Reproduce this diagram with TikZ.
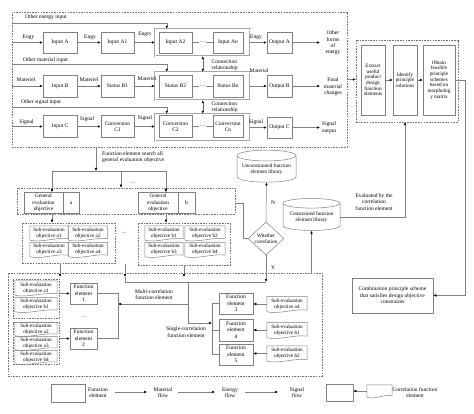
\documentclass[tikz,border=0pt]{standalone}
\usepackage{fontspec}
\setmainfont{Liberation Serif}
\usetikzlibrary{arrows.meta,shapes.geometric,calc}
\newcommand\ft{\fontsize{5.5}{6.4}\selectfont}
\newcommand\fs{\fontsize{5.2}{5.7}\selectfont}
\newcommand\wavy[1]{\draw[wline] (#1.south west) -- (#1.north west) -- (#1.north east) -- ([yshift=1.5pt]#1.south east) .. controls ($(#1.south west)!0.72!(#1.south east)+(0pt,3.5pt)$) and ($(#1.south west)!0.28!(#1.south east)+(0pt,-3pt)$) .. (#1.south west);}
\tikzset{
  wh/.style 2 args={minimum width=#1pt, minimum height=#2pt},
  box/.style={draw=black!50, line width=0.5pt, fill=white, align=center, inner sep=0pt, font=\ft},
  grp/.style={draw=black!35, line width=0.45pt, double=white, double distance=0.7pt, inner sep=0pt},
  dbox/.style={draw=black!55, line width=0.5pt, dash pattern=on 1.6pt off 1.1pt, inner sep=0pt},
  doc/.style={inner sep=0pt, align=center, font=\fs},
  wline/.style={draw=black!50, line width=0.5pt},
  lbl/.style={inner sep=0pt, align=center, font=\ft},
  lbll/.style={inner sep=0pt, align=left, font=\ft},
  flow/.style={draw=black!50, line width=0.5pt, -{Latex[color=black,length=3pt,width=2.6pt]}},
  twoway/.style={draw=black!60, line width=0.55pt, {Latex[color=black,length=3pt,width=2.6pt]}-{Latex[color=black,length=3pt,width=2.6pt]}},
  link/.style={draw=black!50, line width=0.5pt},
  lib/.style={cylinder, shape border rotate=90, aspect=0.22, draw=black!50, line width=0.5pt, inner sep=0pt, align=center, font=\fs},
}
\begin{document}
\begin{tikzpicture}[x=1pt,y=-1pt]
\useasboundingbox (0,0) rectangle (474,414);

% ===== top dashed box =====
\node[dbox, wh={335}{135}] (topbox) at (179.5,79.5) {};

% row 1 energy
\node[lbll, anchor=west] (oetxt) at (25,17) {Other energy input};
\node[grp, wh={95}{27}] (grpA) at (202.5,42.5) {};
\node[box, wh={34}{21}] (inA) at (60,42.5) {Input A};
\node[box, wh={33}{21}] (inA1) at (117.5,42.5) {Input A1};
\node[box, wh={33}{21}] (inA2) at (175.5,42.5) {Input A2};
\node[box, wh={30}{21}] (inAn) at (228,42.5) {Input An};
\node[box, wh={25}{21}] (outA) at (279.5,42.5) {Output A};
\node[lbl, inner sep=1pt] (dA) at (202.5,42.5) {···};
\draw[link] (inA2) -- (dA); \draw[link] (dA) -- (inAn);
\coordinate (eS) at (12,42.5); \coordinate (eE) at (320,42.5);
\draw[flow] (eS) -- (inA); \draw[flow] (inA) -- (inA1); \draw[flow] (inA1) -- (grpA);
\draw[flow] (grpA) -- (outA); \draw[flow] (outA) -- (eE);
\node[lbl] (eOut) at (333,43) {Other\\forms\\of\\energy};
\node[lbl] (le1) at (28.5,37) {Engy};
\node[lbl] (le2) at (90,37) {Engy};
\node[lbl] (le3) at (145,34) {Engry};
\node[lbl] (le4) at (256,37) {Engy};
\coordinate (oeS) at (12,23);
\draw[flow] (oeS) -| ([xshift=12pt]grpA.north west);

% row 2 material
\node[lbll, anchor=west] (omtxt) at (23,60.5) {Other material input};
\node[grp, wh={95}{28}] (grpB) at (202.5,86) {};
\node[box, wh={34}{22}] (inB) at (60,86) {Input B};
\node[box, wh={33}{22}] (stB1) at (117.5,86) {Status B1};
\node[box, wh={33}{22}] (stB2) at (175.5,86) {Status B2};
\node[box, wh={30}{22}] (stBn) at (228,86) {Status Bn};
\node[box, wh={25}{22}] (outB) at (279.5,86) {Output B};
\node[lbl, inner sep=1pt] (dB) at (202.5,86) {···};
\draw[link] (stB2) -- (dB); \draw[link] (dB) -- (stBn);
\coordinate (mS) at (12,86); \coordinate (mE) at (320,86);
\draw[flow] (mS) -- (inB); \draw[flow] (inB) -- (stB1); \draw[flow] (stB1) -- (grpB);
\draw[flow] (grpB) -- (outB); \draw[flow] (outB) -- (mE);
\node[lbl] (mOut) at (333,87) {Final\\material\\changes};
\node[lbl] (lm1) at (26,80) {Materiel};
\node[lbl] (lm2) at (89,80) {Materiel};
\node[lbl] (lm3) at (147,79) {Materiel};
\node[lbl] (lm4) at (259,71) {Material};
\coordinate (omS) at (12,64);
\draw[flow] (omS) -| ([xshift=12pt]grpB.north west);

% row 3 signal
\node[lbll, anchor=west] (ostxt) at (21,102) {Other signal input};
\node[grp, wh={95}{27}] (grpC) at (202.5,127.5) {};
\node[box, wh={34}{22}] (inC) at (60,126.5) {Input C};
\node[box, wh={33}{22}] (cvC1) at (117.5,126.5) {Conversion\\C1};
\node[box, wh={33}{22}] (cvC2) at (175.5,126.5) {Conversion\\C2};
\node[box, wh={30}{22}] (cvCn) at (228,126.5) {Conversion\\Cn};
\node[box, wh={25}{21}] (outC) at (279.5,127.5) {Output C};
\node[lbl, inner sep=1pt] (dC) at (202.5,126.5) {···};
\draw[link] (cvC2) -- (dC); \draw[link] (dC) -- (cvCn);
\coordinate (sS) at (12,126.5); \coordinate (sE) at (320,127.5);
\draw[flow] (sS) -- (inC); \draw[flow] (inC) -- (cvC1); \draw[flow] (cvC1) -- (cvC1 -| grpC.west);
\draw[flow] (outC -| grpC.east) -- (outC); \draw[flow] (outC) -- (sE);
\node[lbl] (sOut) at (329,127.5) {Signal\\output};
\node[lbl] (ls1) at (26.5,122) {Signal};
\node[lbl] (ls2) at (87,119.5) {Signal};
\node[lbl] (ls3) at (145,118.5) {Signal};
\node[lbl] (ls4) at (256,122) {Signal};
\coordinate (osS) at (12,107);
\draw[flow] (osS) -| ([xshift=12pt]grpC.north west);

% connection relationships
\draw[twoway] ([xshift=48pt]grpA.south west) -- ([xshift=48pt]grpB.north west);
\draw[twoway] ([xshift=48pt]grpB.south west) -- ([xshift=48pt]grpC.north west);
\node[lbll, anchor=west] (cr1) at (211.5,65) {Connection\\relationship};
\node[lbll, anchor=west] (cr2) at (211.5,107) {Connection\\relationship};

% ===== right dashed box =====
\node[dbox, wh={102}{82}] (rbox) at (407,81) {};
\node[box, wh={24}{70}, font=\fs] (ex) at (373,80) {Extract\\useful\\product\\design\\function\\elements};
\node[box, wh={24}{70}, font=\fs] (id) at (405,80) {Identify\\principle\\solutions};
\node[box, wh={32}{70}, font=\fs] (ob) at (439,80) {Obtain\\feasible\\principle\\schemes\\based on\\morpholog\\y matrix};
\draw[flow] (topbox.east) -- (topbox.east -| rbox.west);
\draw[flow] (ex) -- (id); \draw[flow] (id) -- (ob);
\node[box, wh={81}{35}] (comb) at (392.5,295.5) {Combination principle scheme\\that satisfies design objective\\constraints};
\draw[flow] (ob.east) -- ++(10,0) |- (comb.east);

% ===== middle =====
\node[lbll, anchor=north west] (fsearch) at (102,151.5) {Function element search all\\general evaluation objective};
\coordinate (fsB) at (96,171);
\draw[flow] (topbox.south -| fsB) -- (fsB);
\coordinate (hL) at (52,171); \coordinate (hM) at (121,171); \coordinate (hR) at (166,171);
\draw[link] (hL) -- (hR);
\node[dbox, wh={218}{26}] (gbox) at (126,201) {};
\node[box, wh={39}{21}, font=\fontsize{5.3}{6.6}\selectfont] (gea) at (43.5,203) {General\\evaluation\\objective};
\node[box, wh={16}{21}] (ga) at (71,203) {a};
\node[box, wh={40}{21}, font=\fontsize{5.3}{6.6}\selectfont] (geb) at (158,203) {General\\evaluation\\objective};
\node[box, wh={17}{21}] (gb) at (186.5,203) {b};
\draw[flow] (hL) -- (hL |- gea.north);
\draw[flow] (hM) -- (hM |- gbox.north);
\draw[flow] (hR) -- (hR |- geb.north);
\node[lbl] (dots1) at (133,183) {···};

\node[dbox, wh={93}{40}] (sga) at (68.5,243) {};
\node[dbox, wh={92}{42}] (sgb) at (184,244) {};
\draw[flow] (hL |- gea.south) -- (hL |- sga.north);
\draw[flow] (hR |- geb.south) -- (hR |- sgb.north);
\node[doc, wh={38}{14}] (sa1) at (49,233) {Sub-evaluation\\objective a1};
\node[doc, wh={39}{14}] (sa2) at (88,233) {Sub-evaluation\\objective a2};
\node[doc, wh={38}{14}] (sa3) at (49,249.5) {Sub-evaluation\\objective a3};
\node[doc, wh={39}{14}] (sa4) at (88,249.5) {Sub-evaluation\\objective a4};
\node[doc, wh={38}{14}] (sb1) at (164,233) {Sub-evaluation\\objective b1};
\node[doc, wh={40}{14}] (sb2) at (205,233) {Sub-evaluation\\objective b2};
\node[doc, wh={38}{14}] (sb3) at (164,249.5) {Sub-evaluation\\objective b3};
\node[doc, wh={40}{14}] (sb4) at (205,249.5) {Sub-evaluation\\objective b4};
\wavy{sa1}\wavy{sa2}\wavy{sa3}\wavy{sa4}\wavy{sb1}\wavy{sb2}\wavy{sb3}\wavy{sb4}
\node[lbl] (dots2) at (124,233) {···};
\node[lbl, font=\fontsize{3.5}{4}\selectfont] (dots3) at (40,260.5) {···};
\node[lbl, font=\fontsize{3.5}{4}\selectfont] (dots4) at (153,262.5) {···};

% libraries and decision
\node[lib, minimum width=59pt, minimum height=32pt] (ulib) at (266.5,169) {Unconstrained function\\element library};
\node[lib, minimum width=57pt, minimum height=32pt] (clib) at (311.5,217) {Constrained function\\element library};
\node[diamond, draw=black!50, line width=0.5pt, fill=white, aspect=1.1, inner sep=0pt, minimum width=36pt, minimum height=33pt, align=center, font=\fs] (dia) at (266,238.5) {Whether\\correlation};
\draw[flow] (dia.north) -- (ulib.south);
\node[lbl] (lN) at (273,203) {N};
\node[lbl] (lY) at (273,268) {Y};
\coordinate (gk) at (243,203);
\draw[link] (gbox.east |- gk) -- (gk) |- (dia.west);
\draw[flow] (clib.east) -| (id |- rbox.south);
\node[lbl] (evtxt) at (374,202) {Evaluated by the\\correlation\\function element};

% ===== big dashed box =====
\node[dbox, wh={314}{103}] (bigbox) at (165,324.5) {};
\draw[flow] (bigbox.north -| clib) -- (clib.south);

\coordinate (dA1) at (60,277);
\draw[flow] (sga.south -| dA1) -- (dA1);
\coordinate (mTop) at (125,264); \coordinate (mTip) at (125,277); \coordinate (mJ) at (125,282);
\draw[flow] (mTop) -- (mTip); \draw[link] (mTip) -- (mJ);
\coordinate (bTip) at (184,277);
\draw[flow] (sgb.south -| bTip) -- (bTip);
\coordinate (yJ) at (266,282);
\draw[flow] (dia.south) -- (yJ);
\draw[link] (mJ) -- (yJ);
\coordinate (sJ) at (188,282); \coordinate (mc) at (188,304); \coordinate (sc) at (188,323);
\draw[link] (sJ) -- (sc);

% left groups
\node[dbox, wh={46}{39}] (lg1) at (36,298.5) {};
\node[doc, wh={42}{14}] (la1) at (36,288) {Sub-evaluation\\objective a1};
\node[doc, wh={42}{14}] (lb1) at (36,304.5) {Sub-evaluation\\objective b1};
\node[box, wh={27}{21}] (fe1) at (83.5,293.5) {Function\\element\\1};
\draw[flow] (lg1.east |- fe1) -- (fe1.west);
\node[dbox, wh={46}{42}] (lg2) at (36,343) {};
\node[doc, wh={42}{13}] (la2) at (36,329) {Sub-evaluation\\objective a2};
\node[doc, wh={42}{13}] (la3) at (36,343) {Sub-evaluation\\objective a3};
\node[doc, wh={42}{13}] (lb4) at (36,357) {Sub-evaluation\\objective b4};
\wavy{la1}\wavy{lb1}\wavy{la2}\wavy{la3}\wavy{lb4}
\node[box, wh={27}{21}] (fe2) at (83.5,338.5) {Function\\element\\2};
\draw[flow] (lg2.east |- fe2) -- (fe2.west);
\node[lbl] (dots5) at (84,317) {···};
\coordinate (mb) at (118,304);
\draw[flow] (mc) -- (mb);
\draw[link] (fe1.east) -- (fe1.east -| mb) -- (fe2.east -| mb) -- (fe2.east);
\node[lbl] (mtxt) at (154,294.5) {Multi-correlation\\function element};

% right function elements
\node[box, wh={34}{21}] (fe3) at (236,303.5) {Function\\element\\3};
\node[box, wh={34}{22}] (fe4) at (236,330) {Function\\element\\4};
\node[box, wh={34}{21}] (fe5) at (236,354.5) {Function\\element\\5};
\coordinate (sb) at (212,323);
\draw[flow] (sc) -- (sb);
\draw[link] (fe3.west) -- (fe3.west -| sb) -- (fe5.west -| sb) -- (fe5.west);
\draw[link] (fe4.west) -- (fe4.west -| sb);
\node[lbl] (stxt) at (186,332) {Single-correlation\\function element};
\node[doc, wh={40}{15}] (ra4) at (287,304) {Sub-evaluation\\objective a4};
\node[doc, wh={40}{15}] (rb1) at (287,330) {Sub-evaluation\\objective b1};
\node[doc, wh={40}{15}] (rb2) at (287,353.5) {Sub-evaluation\\objective b2};
\wavy{ra4}\wavy{rb1}\wavy{rb2}
\draw[flow] (ra4.west) -- (ra4.west -| fe3.east);
\draw[flow] (rb1.west) -- (rb1.west -| fe4.east);
\draw[flow] (rb2.west) -- (rb2.west -| fe5.east);

% ===== legend =====
\node[box, wh={34}{18}] (lfe) at (68,393) {};
\node[lbl] (lfet) at (98,392.5) {Function\\element};
\coordinate (m1) at (115,392); \coordinate (m2) at (147,392);
\draw[flow] (m1) -- (m2);
\node[lbl] (lmt) at (163,392.5) {Material\\flow};
\coordinate (e1) at (178,392); \coordinate (e2) at (215,392);
\draw[flow] (e1) -- (e2);
\node[lbl] (let) at (230,392.5) {Energy\\flow};
\coordinate (g1) at (245,392); \coordinate (g2) at (278,392);
\draw[flow] (g1) -- (g2);
\node[lbl] (lst) at (297,392.5) {Signal\\flow};
\node[box, wh={27}{17}] (lcb) at (339.5,392.5) {};
\node[doc, wh={25}{12}] (lcw) at (379.5,391) {};
\wavy{lcw}
\draw[flow] (lcw.west) -- (lcw.west -| lcb.east);
\node[lbl] (lct) at (415,392.5) {Correlation function\\element};
\end{tikzpicture}
\end{document}
